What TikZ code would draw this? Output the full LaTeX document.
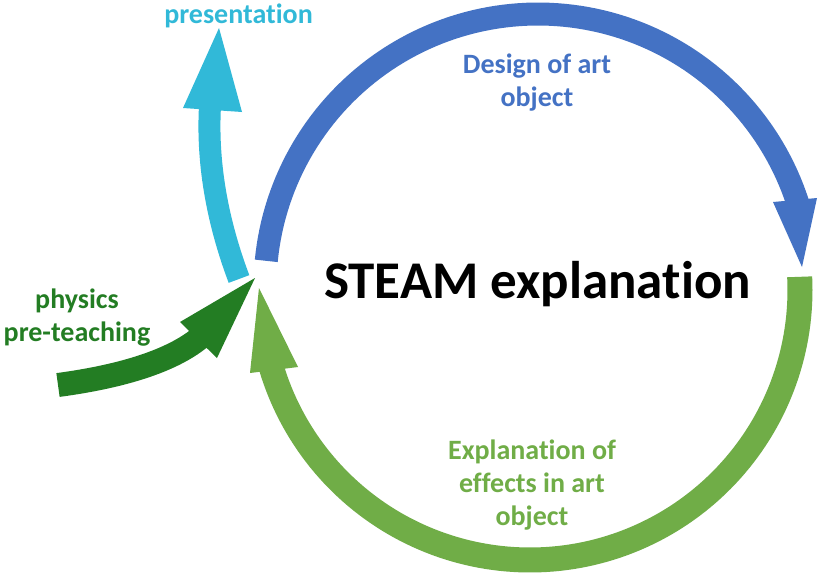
\documentclass[tikz,border=0pt]{standalone}
\usepackage{fontspec}
\setmainfont{Carlito}[RawFeature={-liga;-clig;-dlig}]
\definecolor{cyanA}{RGB}{49,185,216}
\definecolor{blueA}{RGB}{68,114,196}
\definecolor{greenA}{RGB}{112,173,71}
\definecolor{greenD}{RGB}{35,125,35}
\begin{document}
\begin{tikzpicture}[x=1pt,y=-1pt,
  lbl/.style={font=\bfseries\fontsize{28}{33}\selectfont, align=center, inner sep=0pt}]
\fill[white] (0,0) rectangle (820,576);
\useasboundingbox (0,0) rectangle (820,576);
% blue arc arrow
\draw[blueA, line width=23pt] plot[domain=-174.5:-18, samples=100] ({538+273*cos(\x)},{287+273*sin(\x)});
\fill[blueA] (773,202) -- (817,198) -- (802,267) -- cycle;
% light green arc arrow
\draw[greenA, line width=25pt] plot[domain=-2.8:163.5, samples=120] ({530+270*cos(\x)},{290+270*sin(\x)});
\fill[greenA] (250,373) -- (298,367) -- (259,288) -- cycle;
% cyan arrow
\draw[cyanA, line width=22pt] (239,279) .. controls (216,218) and (207,160) .. (210,106);
\fill[cyanA] (183,108) -- (242,112) -- (219,28) -- cycle;
% dark green arrow
\draw[greenD, line width=24pt] (58,385) .. controls (95,380) and (165,368) .. (202,336);
\fill[greenD] (180,322) -- (255,278) -- (217,358) -- cycle;
% labels
\node[lbl, text=cyanA, anchor=base] (pres) at (238.5,23) {presentation};
\node[lbl, text=blueA] (design) at (537,83) {Design of art\\object};
\node[font=\bfseries\fontsize{53}{60}\selectfont, anchor=base, inner sep=0pt] (steam) at (537.5,298) {STEAM explanation};
\node[lbl, text=greenD] (phys) at (77,318) {physics\\pre-teaching};
\node[lbl, text=greenA] (expl) at (532,485) {Explanation of\\effects in art\\object};
\end{tikzpicture}
\end{document}
